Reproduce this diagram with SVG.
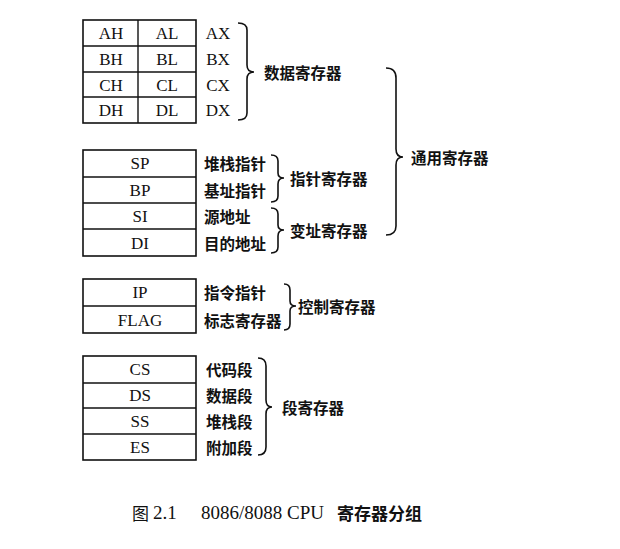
<svg xmlns="http://www.w3.org/2000/svg" width="620" height="549" viewBox="0 0 620 549">
<style>
.box{fill:none;stroke:#111;stroke-width:1.6}
.ln{stroke:#111;stroke-width:1.4}
.br{fill:none;stroke:#111;stroke-width:1.6}
.t{font-family:"Liberation Serif","Noto Sans CJK SC",serif;font-size:17px;fill:#111;text-anchor:middle;dominant-baseline:central}
.c{font-family:"Noto Sans CJK SC",sans-serif;font-size:15.5px;font-weight:bold;fill:#111;dominant-baseline:central}
</style>
<rect width="620" height="549" fill="#fff"/>
<g id="data-regs">
<rect class="box" x="83" y="20" width="113" height="103"/>
<line class="ln" x1="138" y1="20" x2="138" y2="123"/>
<line class="ln" x1="83" y1="46" x2="196" y2="46"/>
<line class="ln" x1="83" y1="72" x2="196" y2="72"/>
<line class="ln" x1="83" y1="97" x2="196" y2="97"/>
<text class="t" x="111" y="33">AH</text><text class="t" x="167" y="33">AL</text><text class="t" x="218" y="33">AX</text>
<text class="t" x="111" y="59">BH</text><text class="t" x="167" y="59">BL</text><text class="t" x="218" y="59">BX</text>
<text class="t" x="111" y="85">CH</text><text class="t" x="167" y="85">CL</text><text class="t" x="218" y="85">CX</text>
<text class="t" x="111" y="110">DH</text><text class="t" x="167" y="110">DL</text><text class="t" x="218" y="110">DX</text>
<path class="br" d="M238,23 Q247,23 247,30 L247,65 Q247,72 254,72 Q247,72 247,79 L247,113 Q247,120 238,120"/>
<text class="c" x="264" y="72">数据寄存器</text>
</g>
<g id="ptr-regs">
<rect class="box" x="83" y="150" width="113" height="106"/>
<line class="ln" x1="83" y1="177" x2="196" y2="177"/>
<line class="ln" x1="83" y1="203" x2="196" y2="203"/>
<line class="ln" x1="83" y1="229" x2="196" y2="229"/>
<text class="t" x="140" y="163">SP</text><text class="t" x="140" y="190">BP</text>
<text class="t" x="140" y="216">SI</text><text class="t" x="140" y="243">DI</text>
<text class="c" x="204" y="163">堆栈指针</text><text class="c" x="204" y="190">基址指针</text>
<text class="c" x="204" y="216">源地址</text><text class="c" x="204" y="243">目的地址</text>
<path class="br" d="M271,155 Q278,155 278,161 L278,173 Q278,178 284,178 Q278,178 278,184 L278,196 Q278,202 271,202"/>
<text class="c" x="290" y="178">指针寄存器</text>
<path class="br" d="M271,208 Q278,208 278,214 L278,225 Q278,230 284,230 Q278,230 278,236 L278,247 Q278,253 271,253"/>
<text class="c" x="290" y="230">变址寄存器</text>
</g>
<g id="general">
<path class="br" d="M386,68 Q396,68 396,78 L396,149 Q396,157 403,157 Q396,157 396,165 L396,226 Q396,235 386,235"/>
<text class="c" x="411" y="157">通用寄存器</text>
</g>
<g id="ctrl-regs">
<rect class="box" x="83" y="279" width="113" height="54"/>
<line class="ln" x1="83" y1="306" x2="196" y2="306"/>
<text class="t" x="140" y="292">IP</text><text class="t" x="140" y="320">FLAG</text>
<text class="c" x="204" y="292">指令指针</text><text class="c" x="204" y="320">标志寄存器</text>
<path class="br" d="M284,284 Q290,284 290,290 L290,301 Q290,306 296,306 Q290,306 290,311 L290,324 Q290,330 284,330"/>
<text class="c" x="298" y="306">控制寄存器</text>
</g>
<g id="seg-regs">
<rect class="box" x="83" y="356" width="113" height="104"/>
<line class="ln" x1="83" y1="383" x2="196" y2="383"/>
<line class="ln" x1="83" y1="408" x2="196" y2="408"/>
<line class="ln" x1="83" y1="434" x2="196" y2="434"/>
<text class="t" x="140" y="369">CS</text><text class="t" x="140" y="395">DS</text>
<text class="t" x="140" y="421">SS</text><text class="t" x="140" y="447">ES</text>
<text class="c" x="206" y="369">代码段</text><text class="c" x="206" y="395">数据段</text>
<text class="c" x="206" y="421">堆栈段</text><text class="c" x="206" y="447">附加段</text>
<path class="br" d="M258,358 Q266,358 266,366 L266,400 Q266,407 272,407 Q266,407 266,414 L266,447 Q266,455 258,455"/>
<text class="c" x="282" y="407">段寄存器</text>
</g>
<g id="caption">
<text class="c" x="132" y="512" style="font-weight:normal;font-size:17px">图</text>
<text class="t" x="153" y="512" style="text-anchor:start;font-size:19px">2.1</text>
<text class="t" x="201" y="512" style="text-anchor:start;font-size:19px">8086/8088 CPU</text>
<text class="c" x="337" y="512" style="font-size:17px">寄存器分组</text>
</g>
</svg>
